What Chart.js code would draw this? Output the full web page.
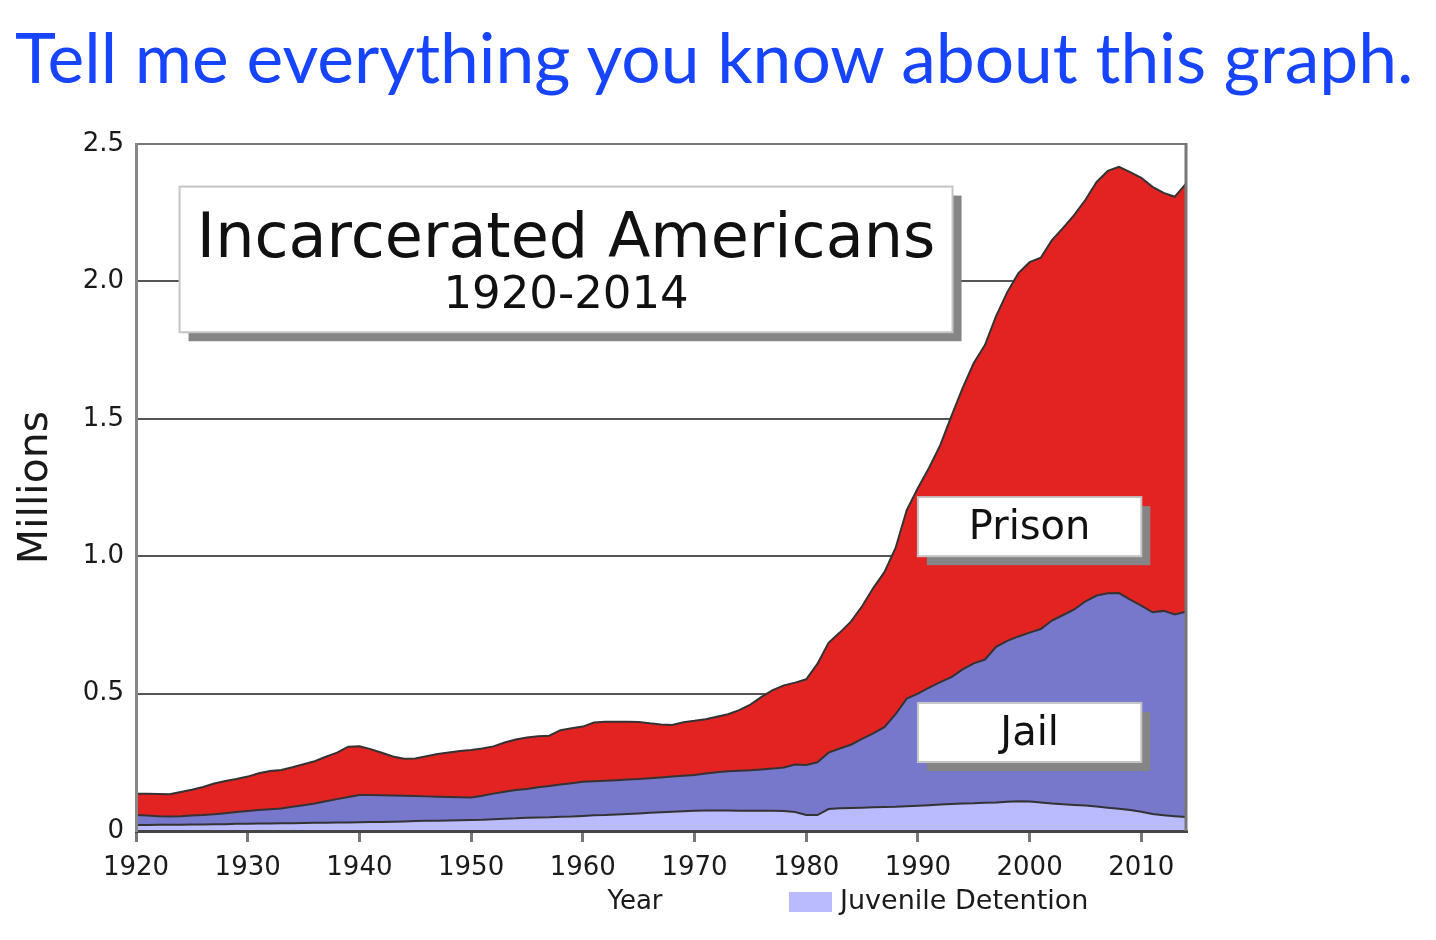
<!DOCTYPE html>
<html>
<head>
<meta charset="utf-8">
<script src="https://cdn.jsdelivr.net/npm/chart.js@4.4.1/dist/chart.umd.min.js"></script>
<style>
html, body { margin: 0; padding: 0; background: #fff; }
#wrap { position: relative; width: 1436px; height: 940px; overflow: hidden; }
#myChart { position: absolute; left: 0; top: 0; }
#heading { position: absolute; left: 15px; top: 22px; font-family: Lato, sans-serif; font-size: 66px;
  line-height: 1; color: #1744ff; white-space: nowrap; }
</style>
</head>
<body>
<div id="wrap">
  <canvas id="myChart" width="1436" height="940"></canvas>
  <div id="heading">Tell me everything you know about this graph.</div>
</div>
<script>
// years on the x axis
var years = [
  1920,1921,1922,1923,1924,1925,1926,1927,1928,1929,
  1930,1931,1932,1933,1934,1935,1936,1937,1938,1939,
  1940,1941,1942,1943,1944,1945,1946,1947,1948,1949,
  1950,1951,1952,1953,1954,1955,1956,1957,1958,1959,
  1960,1961,1962,1963,1964,1965,1966,1967,1968,1969,
  1970,1971,1972,1973,1974,1975,1976,1977,1978,1979,
  1980,1981,1982,1983,1984,1985,1986,1987,1988,1989,
  1990,1991,1992,1993,1994,1995,1996,1997,1998,1999,
  2000,2001,2002,2003,2004,2005,2006,2007,2008,2009,
  2010,2011,2012,2013,2014
];

// millions, read off the picture as the top edge of each band
// juvenile detention (bottom band)
var juvenile = [
  0.022,0.022,0.023,0.023,0.023,0.024,0.024,0.025,0.025,0.026,
  0.026,0.027,0.027,0.028,0.028,0.029,0.030,0.030,0.031,0.031,
  0.032,0.033,0.033,0.034,0.035,0.036,0.037,0.037,0.038,0.039,
  0.040,0.041,0.043,0.045,0.046,0.048,0.049,0.050,0.052,0.053,
  0.055,0.057,0.058,0.060,0.062,0.064,0.066,0.068,0.070,0.072,
  0.074,0.075,0.075,0.075,0.074,0.074,0.074,0.074,0.073,0.069,
  0.058,0.058,0.080,0.083,0.084,0.085,0.086,0.087,0.088,0.090,
  0.092,0.094,0.096,0.098,0.100,0.101,0.103,0.104,0.106,0.108,
  0.107,0.104,0.100,0.097,0.095,0.093,0.089,0.085,0.081,0.076,
  0.070,0.062,0.057,0.054,0.051
];

// juvenile + jail (top of the jail band)
var jailTop = [
  0.058,0.056,0.054,0.053,0.054,0.056,0.058,0.061,0.065,0.069,
  0.073,0.076,0.079,0.082,0.088,0.094,0.100,0.108,0.116,0.124,
  0.131,0.131,0.130,0.129,0.128,0.127,0.126,0.125,0.124,0.123,
  0.122,0.128,0.136,0.143,0.149,0.153,0.159,0.164,0.169,0.174,
  0.179,0.181,0.183,0.185,0.187,0.189,0.192,0.195,0.198,0.201,
  0.204,0.209,0.214,0.217,0.219,0.221,0.224,0.227,0.231,0.242,
  0.240,0.250,0.285,0.300,0.314,0.335,0.355,0.378,0.425,0.482,
  0.500,0.522,0.542,0.560,0.588,0.610,0.624,0.670,0.692,0.708,
  0.722,0.735,0.766,0.786,0.806,0.836,0.857,0.865,0.866,0.842,
  0.820,0.796,0.801,0.788,0.798
];

// total incarcerated (top of the prison band)
var total = [
  0.136,0.136,0.135,0.134,0.142,0.150,0.160,0.173,0.182,0.189,
  0.198,0.210,0.218,0.222,0.232,0.243,0.254,0.270,0.285,0.307,
  0.308,0.298,0.285,0.271,0.263,0.264,0.272,0.280,0.286,0.291,
  0.295,0.300,0.308,0.322,0.333,0.340,0.345,0.347,0.367,0.374,
  0.380,0.395,0.398,0.398,0.398,0.397,0.392,0.388,0.386,0.396,
  0.401,0.407,0.416,0.425,0.440,0.460,0.488,0.513,0.530,0.540,
  0.552,0.608,0.685,0.722,0.762,0.818,0.884,0.942,1.030,1.168,
  1.248,1.322,1.404,1.510,1.612,1.703,1.768,1.874,1.961,2.030,
  2.070,2.086,2.150,2.195,2.242,2.297,2.362,2.402,2.417,2.398,
  2.377,2.344,2.322,2.308,2.356
];

var xTicks = [1920, 1930, 1940, 1950, 1960, 1970, 1980, 1990, 2000, 2010];
var yTicks = [0, 0.5, 1.0, 1.5, 2.0, 2.5];

var fontFamily = "'DejaVu Sans', Verdana, sans-serif";

function points(values){
  return values.map(function(v, i){ return {x: years[i], y: v}; });
}

// annotation boxes, in data units
var titleBox = {x0: 1923.9, x1: 1993.1, y0: 2.345, y1: 1.815};
var prisonBox = {x0: 1990, x1: 2010, y0: 1.215, y1: 1.0};
var jailBox = {x0: 1990, x1: 2010, y0: 0.466, y1: 0.251};

function drawBox(chart, box){
  var c = chart.ctx, sx = chart.scales.x, sy = chart.scales.y;
  var l = sx.getPixelForValue(box.x0), r = sx.getPixelForValue(box.x1);
  var t = sy.getPixelForValue(box.y0), b = sy.getPixelForValue(box.y1);
  c.save();
  c.fillStyle = "#858585";
  c.fillRect(l + 9, t + 9, r - l, b - t);
  c.fillStyle = "#fff";
  c.fillRect(l, t, r - l, b - t);
  c.strokeStyle = "#c4c4c4";
  c.lineWidth = 2;
  c.strokeRect(l, t, r - l, b - t);
  c.restore();
  return {l: l, r: r, t: t, b: b, cx: (l + r) / 2};
}

var overlay = {
  id: "overlay",
  afterDatasetsDraw: function(chart){
    var c = chart.ctx;
    c.save();
    c.fillStyle = "#111";
    c.textAlign = "center";
    c.textBaseline = "alphabetic";

    var tb = drawBox(chart, titleBox);
    c.font = "62px " + fontFamily;
    c.fillText("Incarcerated Americans", tb.cx, tb.t + 70);
    c.font = "45px " + fontFamily;
    c.fillText("1920-2014", tb.cx, tb.t + 121);

    var pb = drawBox(chart, prisonBox);
    c.font = "40px " + fontFamily;
    c.fillText("Prison", pb.cx, pb.t + 42);

    var jb = drawBox(chart, jailBox);
    c.fillText("Jail", jb.cx, jb.t + 42);
    c.restore();
  },
  afterDraw: function(chart){
    var c = chart.ctx, area = chart.chartArea;
    c.save();
    // right frame
    c.strokeStyle = "#777";
    c.lineWidth = 3;
    c.beginPath();
    c.moveTo(area.right, area.top - 1);
    c.lineTo(area.right, area.bottom);
    c.stroke();

    c.fillStyle = "#1a1a1a";
    c.textBaseline = "middle";
    // y title
    c.save();
    c.translate(36, (area.top + area.bottom) / 2);
    c.rotate(-Math.PI / 2);
    c.textAlign = "center";
    c.font = "41px " + fontFamily;
    c.fillText("Millions", 0, 0);
    c.restore();

    // x title
    c.textAlign = "center";
    c.font = "26px " + fontFamily;
    c.fillText("Year", 635, 902);

    // legend
    c.fillStyle = "#babaff";
    c.fillRect(789, 892, 43, 20);
    c.fillStyle = "#1a1a1a";
    c.textAlign = "left";
    c.font = "27px " + fontFamily;
    c.fillText("Juvenile Detention", 840, 902);
    c.restore();
  }
};

var ctx = document.getElementById("myChart");

var chart = new Chart(ctx, {
  type: "line",
  data: {
    datasets: [{
      label: "Juvenile Detention",
      data: points(juvenile),
      backgroundColor: "#babaff",
      fill: "origin"
    },
    {
      label: "Jail",
      data: points(jailTop),
      backgroundColor: "#7777cc",
      fill: "-1"
    },
    {
      label: "Prison",
      data: points(total),
      backgroundColor: "#e32322",
      fill: "-1"
    }]
  },
  options: {
    responsive: false,
    animation: false,
    layout: { padding: { left: 0, right: 250, top: 144, bottom: 0 } },
    elements: {
      line: { borderColor: "#333", borderWidth: 2, tension: 0 },
      point: { radius: 0 }
    },
    plugins: {
      legend: { display: false },
      tooltip: { enabled: false }
    },
    scales: {
      x: {
        type: "linear",
        min: 1920,
        max: 2014,
        afterFit: function(scale){ scale.height = 109; },
        afterBuildTicks: function(scale){
          scale.ticks = xTicks.map(function(v){ return {value: v}; });
        },
        ticks: {
          autoSkip: false,
          maxRotation: 0,
          padding: 11,
          color: "#1a1a1a",
          font: { family: fontFamily, size: 26 },
          callback: function(v){ return String(v); }
        },
        grid: { drawOnChartArea: false, drawTicks: true, tickLength: 11, color: "#777", lineWidth: 3 },
        border: { display: true, color: "#444", width: 3, z: 1 }
      },
      y: {
        min: 0,
        max: 2.5,
        afterFit: function(scale){ scale.width = 136; },
        afterBuildTicks: function(scale){
          scale.ticks = yTicks.map(function(v){ return {value: v}; });
        },
        ticks: {
          padding: 12,
          color: "#1a1a1a",
          font: { family: fontFamily, size: 26 },
          callback: function(v){ return v === 0 ? "0" : v.toFixed(1); }
        },
        grid: {
          drawTicks: false,
          lineWidth: 2,
          color: function(c){
            if(c.tick.value === 0) return "rgba(0,0,0,0)";
            return c.tick.value === 2.5 ? "#777" : "#555";
          }
        },
        border: { display: true, color: "#888", width: 3, z: 1 }
      }
    }
  },
  plugins: [overlay]
});

// fit the heading to the width it has in the slide
var heading = document.getElementById("heading");
var w = heading.getBoundingClientRect().width;
heading.style.fontSize = (66 * 1398 / w).toFixed(1) + "px";
</script>
</body>
</html>
